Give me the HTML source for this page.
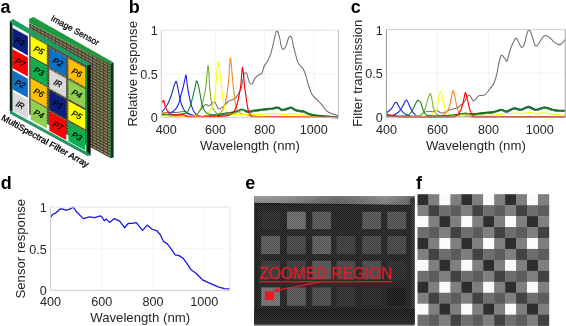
<!DOCTYPE html>
<html><head><meta charset="utf-8"><title>Figure</title>
<style>
html,body{margin:0;padding:0;background:#fff;}
body{width:566px;height:326px;overflow:hidden;}
svg{display:block;font-family:"Liberation Sans",sans-serif;}
</style></head><body>
<svg width="566" height="326" viewBox="0 0 566 326">
<rect width="566" height="326" fill="#fff"/>
<defs>
<pattern id="sens" width="3.7" height="2.9" patternUnits="userSpaceOnUse" patternTransform="matrix(1,0.54,0,1,29.2,23.3)"><rect width="3.7" height="2.9" fill="#8e8c54"/><rect width="3.7" height="1.2" fill="#3a3034"/><rect width="0.9" height="2.9" fill="#4a4038"/></pattern>
</defs>
<polygon points="29.2,23.3 110.4,63.8 110.4,158.0 29.2,114.2" fill="url(#sens)" />
<polygon points="29.2,23.0 29.2,18.8 33.4,17.0 113.6,62.6 110.4,64.0" fill="#1d9a3e" />
<polygon points="110.4,63.9 113.6,62.6 113.6,157.4 110.4,158.2" fill="#0a3516" />
<line x1="110.6" y1="64" x2="110.6" y2="158" stroke="#1a7a34" stroke-width="0.7"/>
<polygon points="12.3,27.7 27.9,36.3 27.9,55.4 12.3,46.8" fill="#0b1f80" />
<text transform="translate(20.1,41.5) rotate(27)" x="0" y="2.8" text-anchor="middle" font-size="8.2" font-style="italic" fill="#000" stroke="#000" stroke-width="0.22">P1</text>
<polygon points="30.7,36.0 46.8,44.9 46.8,64.8 30.7,55.9" fill="#ffff00" />
<text transform="translate(38.8,50.4) rotate(27)" x="0" y="2.8" text-anchor="middle" font-size="8.2" font-style="italic" fill="#000" stroke="#000" stroke-width="0.22">P5</text>
<polygon points="49.3,48.0 66.2,57.3 66.2,76.4 49.3,67.1" fill="#0f6fc8" />
<text transform="translate(57.8,62.2) rotate(27)" x="0" y="2.8" text-anchor="middle" font-size="8.2" font-style="italic" fill="#000" stroke="#000" stroke-width="0.22">P2</text>
<polygon points="68.4,58.5 85.3,67.8 85.3,86.9 68.4,77.6" fill="#ffc000" />
<text transform="translate(76.8,72.7) rotate(27)" x="0" y="2.8" text-anchor="middle" font-size="8.2" font-style="italic" fill="#000" stroke="#000" stroke-width="0.22">P6</text>
<polygon points="12.3,48.9 27.9,57.5 27.9,76.6 12.3,68.0" fill="#ff0000" />
<text transform="translate(20.1,62.7) rotate(27)" x="0" y="2.8" text-anchor="middle" font-size="8.2" font-style="italic" fill="#000" stroke="#000" stroke-width="0.22">P7</text>
<polygon points="30.7,57.2 46.8,66.1 46.8,86.0 30.7,77.1" fill="#0fae4e" />
<text transform="translate(38.8,71.6) rotate(27)" x="0" y="2.8" text-anchor="middle" font-size="8.2" font-style="italic" fill="#000" stroke="#000" stroke-width="0.22">P3</text>
<polygon points="49.3,69.2 66.2,78.5 66.2,97.6 49.3,88.3" fill="#d9d9d9" />
<text transform="translate(57.8,83.4) rotate(27)" x="0" y="2.8" text-anchor="middle" font-size="8.2" font-style="italic" fill="#000" stroke="#000" stroke-width="0.22">IR</text>
<polygon points="68.4,79.7 85.3,89.0 85.3,108.1 68.4,98.8" fill="#8fd14f" />
<text transform="translate(76.8,93.9) rotate(27)" x="0" y="2.8" text-anchor="middle" font-size="8.2" font-style="italic" fill="#000" stroke="#000" stroke-width="0.22">P4</text>
<polygon points="12.3,70.1 27.9,78.7 27.9,97.8 12.3,89.2" fill="#0f6fc8" />
<text transform="translate(20.1,83.9) rotate(27)" x="0" y="2.8" text-anchor="middle" font-size="8.2" font-style="italic" fill="#000" stroke="#000" stroke-width="0.22">P2</text>
<polygon points="30.7,78.4 46.8,87.3 46.8,107.2 30.7,98.3" fill="#ffc000" />
<text transform="translate(38.8,92.8) rotate(27)" x="0" y="2.8" text-anchor="middle" font-size="8.2" font-style="italic" fill="#000" stroke="#000" stroke-width="0.22">P6</text>
<polygon points="49.3,90.4 66.2,99.7 66.2,118.8 49.3,109.5" fill="#0b1f80" />
<text transform="translate(57.8,104.6) rotate(27)" x="0" y="2.8" text-anchor="middle" font-size="8.2" font-style="italic" fill="#000" stroke="#000" stroke-width="0.22">P1</text>
<polygon points="68.4,100.9 85.3,110.2 85.3,129.3 68.4,120.0" fill="#ffff00" />
<text transform="translate(76.8,115.1) rotate(27)" x="0" y="2.8" text-anchor="middle" font-size="8.2" font-style="italic" fill="#000" stroke="#000" stroke-width="0.22">P5</text>
<polygon points="12.3,91.3 27.9,99.9 27.9,119.0 12.3,110.4" fill="#d9d9d9" />
<text transform="translate(20.1,105.1) rotate(27)" x="0" y="2.8" text-anchor="middle" font-size="8.2" font-style="italic" fill="#000" stroke="#000" stroke-width="0.22">IR</text>
<polygon points="30.7,99.6 46.8,108.5 46.8,128.4 30.7,119.5" fill="#8fd14f" />
<text transform="translate(38.8,114.0) rotate(27)" x="0" y="2.8" text-anchor="middle" font-size="8.2" font-style="italic" fill="#000" stroke="#000" stroke-width="0.22">P4</text>
<polygon points="49.3,111.6 66.2,120.9 66.2,140.0 49.3,130.7" fill="#ff0000" />
<text transform="translate(57.8,125.8) rotate(27)" x="0" y="2.8" text-anchor="middle" font-size="8.2" font-style="italic" fill="#000" stroke="#000" stroke-width="0.22">P7</text>
<polygon points="68.4,122.1 85.3,131.4 85.3,150.5 68.4,141.2" fill="#0fae4e" />
<text transform="translate(76.8,136.3) rotate(27)" x="0" y="2.8" text-anchor="middle" font-size="8.2" font-style="italic" fill="#000" stroke="#000" stroke-width="0.22">P3</text>
<polygon points="9.8,21.0 12.3,22.4 12.3,112.4 9.8,111.0" fill="#06180c" />
<line x1="12.0" y1="24" x2="12.0" y2="112" stroke="#155c34" stroke-width="0.6"/>
<polygon points="9.8,21.0 13.0,18.9 90.6,64.3 87.2,66.4 12.3,24.4" fill="#1b9e64" />
<polygon points="86.1,66.0 90.6,64.3 90.6,155.4 86.1,153.2" fill="#041008" />
<line x1="86.7" y1="66.3" x2="86.7" y2="153.4" stroke="#18a050" stroke-width="1.1"/>
<polygon points="9.8,110.2 88.5,153.0 90.4,155.6 88.0,155.8 9.8,113.0" fill="#1b9e64" />
<line x1="9.75" y1="113.2" x2="88.5" y2="156.0" stroke="#0a4a2c" stroke-width="0.6"/>
<text transform="translate(50.2,20.0) rotate(28.8)" font-size="8.7" fill="#000" stroke="#000" stroke-width="0.25" textLength="53.6" lengthAdjust="spacingAndGlyphs">Image Sensor</text>
<text transform="translate(0.8,119.4) rotate(29.2)" font-size="8.7" fill="#000" stroke="#000" stroke-width="0.3" textLength="98.5" lengthAdjust="spacingAndGlyphs">MultiSpectral Filter Array</text>
<rect x="161.3" y="30.3" width="177.2" height="87.0" fill="#fff" stroke="none"/>
<line x1="215.44444444444446" y1="30.3" x2="215.44444444444446" y2="117.3" stroke="#dcdcdc" stroke-width="0.8" stroke-dasharray="0.9,1.1"/>
<line x1="264.6666666666667" y1="30.3" x2="264.6666666666667" y2="117.3" stroke="#dcdcdc" stroke-width="0.8" stroke-dasharray="0.9,1.1"/>
<line x1="313.8888888888889" y1="30.3" x2="313.8888888888889" y2="117.3" stroke="#dcdcdc" stroke-width="0.8" stroke-dasharray="0.9,1.1"/>
<line x1="161.3" y1="73.8" x2="338.5" y2="73.8" stroke="#dcdcdc" stroke-width="0.8" stroke-dasharray="0.9,1.1"/>
<clipPath id="clb"><rect x="161.3" y="29.3" width="177.7" height="89.0"/></clipPath>
<path d="M161.3,113.6 C161.9,113.4 163.6,112.8 165.0,112.5 C166.4,112.2 167.8,112.1 170.0,112.0 C172.2,111.9 175.6,112.2 178.0,112.0 C180.4,111.8 182.9,110.7 184.5,110.9 C186.1,111.2 186.6,112.9 187.7,113.5 C188.8,114.1 189.8,114.3 191.0,114.5 C192.2,114.7 193.9,115.1 195.1,114.8 C196.3,114.5 197.1,113.8 198.3,112.5 C199.5,111.2 201.3,108.6 202.5,107.2 C203.7,105.8 204.6,104.5 205.7,104.2 C206.8,103.9 208.0,105.6 208.9,105.6 C209.8,105.6 210.3,104.6 211.0,104.0 C211.7,103.4 212.5,102.0 213.2,101.8 C213.9,101.5 214.5,101.5 215.3,102.5 C216.1,103.5 217.2,106.7 218.0,107.7 C218.8,108.7 219.1,108.7 220.1,108.3 C221.1,107.9 222.5,106.8 223.8,105.6 C225.1,104.4 226.8,102.4 228.0,101.4 C229.2,100.4 230.1,100.2 231.2,99.8 C232.3,99.3 233.3,99.5 234.4,98.7 C235.5,97.9 236.6,96.6 237.6,95.0 C238.6,93.4 239.9,91.4 240.7,89.2 C241.5,87.0 241.9,84.7 242.5,82.0 C243.1,79.3 243.7,74.8 244.2,73.2 C244.7,71.7 245.1,72.7 245.6,72.7 C246.1,72.8 246.4,72.4 246.9,73.5 C247.4,74.6 248.0,77.6 248.5,79.3 C249.0,81.0 249.5,82.7 250.1,83.4 C250.7,84.1 251.4,84.2 252.2,83.4 C253.0,82.6 253.8,79.7 254.8,78.3 C255.8,76.9 256.9,76.0 258.0,75.1 C259.1,74.2 260.6,74.6 261.7,73.0 C262.8,71.4 263.3,67.7 264.4,65.5 C265.5,63.3 267.1,61.8 268.1,59.8 C269.2,57.8 269.9,56.0 270.7,53.6 C271.5,51.2 272.2,48.1 272.9,45.1 C273.6,42.1 274.4,37.9 275.0,35.5 C275.6,33.1 276.1,30.5 276.8,30.5 C277.5,30.5 278.5,33.2 279.2,35.5 C279.9,37.8 280.4,42.0 280.8,44.0 C281.2,46.0 281.4,46.9 281.9,47.7 C282.4,48.5 283.2,49.4 284.0,48.8 C284.8,48.2 285.8,46.0 286.6,44.0 C287.4,42.0 288.0,38.3 288.8,37.1 C289.6,35.9 290.7,35.5 291.4,36.6 C292.1,37.8 292.4,41.4 293.0,44.0 C293.6,46.6 294.4,49.7 295.1,52.5 C295.9,55.3 296.7,58.9 297.5,61.0 C298.3,63.1 299.0,63.8 299.9,65.0 C300.8,66.2 302.0,66.5 303.0,68.2 C304.0,69.9 304.9,72.7 305.7,75.1 C306.5,77.5 307.1,80.0 307.8,82.5 C308.6,85.0 309.4,87.8 310.2,89.9 C311.0,92.0 311.3,93.3 312.6,95.0 C313.9,96.7 316.3,98.8 317.8,100.3 C319.3,101.8 320.2,102.4 321.6,104.0 C323.0,105.6 324.6,108.5 326.1,110.0 C327.6,111.5 328.6,112.1 330.6,113.0 C332.6,113.9 336.9,114.9 338.1,115.3" fill="none" stroke="#6e6e6e" stroke-width="1.05" stroke-linejoin="round" stroke-linecap="butt" clip-path="url(#clb)" transform="translate(0,0.35)"/>
<path d="M161.3,112.5 C162.0,111.6 164.2,109.0 165.4,107.2 C166.6,105.4 167.5,104.2 168.6,101.9 C169.7,99.6 170.9,96.1 171.8,93.4 C172.7,90.8 173.3,87.9 173.9,86.0 C174.5,84.1 174.9,83.0 175.3,82.2 C175.7,81.4 175.9,80.6 176.2,80.9 C176.5,81.2 176.6,81.7 177.1,84.0 C177.6,86.3 178.6,91.5 179.2,94.5 C179.8,97.5 180.1,99.6 180.8,101.9 C181.5,104.2 182.6,106.7 183.4,108.3 C184.2,109.9 184.5,110.5 185.6,111.4 C186.7,112.3 188.4,113.2 189.8,113.8 C191.2,114.4 192.3,114.8 194.0,115.2 C195.7,115.6 196.5,116.0 200.0,116.0 C203.5,116.0 210.8,115.8 215.0,115.5 C219.2,115.2 221.7,114.7 225.0,114.0 C228.3,113.3 232.2,112.3 235.0,111.5 C237.8,110.7 240.1,109.6 241.8,109.4 C243.5,109.2 243.9,110.1 245.0,110.5 C246.1,110.9 247.0,111.9 248.2,112.0 C249.4,112.1 250.6,111.3 252.4,111.0 C254.2,110.7 256.7,110.4 258.8,110.1 C260.9,109.8 263.3,109.6 265.1,109.4 C266.9,109.2 268.2,109.0 269.4,108.9 C270.5,108.8 270.8,109.0 272.0,108.8 C273.2,108.6 275.4,107.8 276.5,107.6 C277.6,107.4 277.9,107.5 278.8,107.9 C279.7,108.3 280.6,109.7 281.8,109.9 C283.1,110.1 284.8,109.5 286.3,109.1 C287.8,108.7 289.6,107.6 290.8,107.6 C292.1,107.6 292.7,108.6 293.8,109.1 C294.9,109.6 295.8,110.1 297.5,110.6 C299.2,111.0 302.3,111.2 304.3,111.8 C306.3,112.4 307.7,113.8 309.6,114.4 C311.5,115.0 313.4,115.3 315.6,115.6 C317.9,115.9 319.4,116.0 323.1,116.3 C326.9,116.6 335.6,117.2 338.1,117.4" fill="none" stroke="#1c2fc0" stroke-width="1.1" stroke-linejoin="round" stroke-linecap="butt" clip-path="url(#clb)" transform="translate(0,0.35)"/>
<path d="M161.3,115.0 C162.4,114.8 166.2,114.5 168.0,114.0 C169.8,113.5 170.5,113.0 171.8,112.0 C173.1,111.0 174.8,109.8 176.0,108.3 C177.2,106.8 178.0,104.6 178.7,103.0 C179.3,101.4 179.4,100.7 179.9,98.7 C180.4,96.8 181.3,93.4 181.9,91.3 C182.5,89.2 182.9,88.3 183.4,86.0 C183.9,83.7 184.8,79.3 185.2,77.5 C185.6,75.7 185.8,74.0 186.1,75.1 C186.4,76.2 186.7,80.4 187.2,84.0 C187.7,87.6 188.6,93.1 189.3,96.6 C190.0,100.1 190.6,102.6 191.4,105.1 C192.2,107.6 193.0,109.8 194.0,111.4 C195.0,113.0 195.7,113.8 197.2,114.6 C198.7,115.4 200.0,115.8 203.0,116.0 C206.0,116.2 211.3,115.8 215.0,115.5 C218.7,115.2 221.7,114.6 225.0,114.0 C228.3,113.4 232.2,112.5 235.0,111.8 C237.8,111.1 240.1,109.8 241.8,109.6 C243.5,109.4 243.9,110.4 245.0,110.8 C246.1,111.3 247.0,112.2 248.2,112.3 C249.4,112.4 250.6,111.6 252.4,111.3 C254.2,111.0 256.7,110.7 258.8,110.4 C260.9,110.1 263.3,109.9 265.1,109.7 C266.9,109.5 268.2,109.3 269.4,109.2 C270.5,109.1 270.8,109.3 272.0,109.1 C273.2,108.9 275.4,108.1 276.5,107.9 C277.6,107.8 277.9,107.8 278.8,108.2 C279.7,108.6 280.6,110.0 281.8,110.2 C283.1,110.4 284.8,109.8 286.3,109.4 C287.8,109.0 289.6,107.9 290.8,107.9 C292.1,107.9 292.7,108.9 293.8,109.4 C294.9,109.9 295.8,110.5 297.5,110.9 C299.2,111.4 302.3,111.5 304.3,112.1 C306.3,112.7 307.7,114.1 309.6,114.7 C311.5,115.3 313.4,115.6 315.6,115.9 C317.9,116.2 319.4,116.3 323.1,116.6 C326.9,116.9 335.6,117.5 338.1,117.7" fill="none" stroke="#1a1aff" stroke-width="1.1" stroke-linejoin="round" stroke-linecap="butt" clip-path="url(#clb)" transform="translate(0,0.35)"/>
<path d="M161.3,115.0 C164.4,115.1 174.7,115.4 180.0,115.5 C185.3,115.6 190.1,115.7 193.0,115.5 C195.9,115.3 196.0,115.2 197.2,114.1 C198.4,113.0 199.5,110.6 200.4,108.8 C201.3,107.0 201.8,105.6 202.5,103.0 C203.2,100.4 204.0,96.2 204.6,93.4 C205.2,90.6 205.5,89.6 205.9,86.0 C206.3,82.4 206.8,75.5 207.2,72.0 C207.6,68.5 207.8,64.5 208.1,65.0 C208.4,65.5 208.8,71.5 209.0,75.0 C209.2,78.5 209.3,82.0 209.6,86.0 C209.9,90.0 210.4,95.0 211.0,98.7 C211.6,102.4 212.3,106.1 213.1,108.3 C213.9,110.5 214.8,111.0 215.8,112.0 C216.8,113.0 217.5,113.6 219.0,114.0 C220.5,114.4 222.3,114.8 225.0,114.5 C227.7,114.2 232.2,113.2 235.0,112.5 C237.8,111.8 240.1,110.3 241.8,110.0 C243.5,109.7 243.9,110.3 245.0,110.7 C246.1,111.1 247.0,112.1 248.2,112.2 C249.4,112.3 250.6,111.5 252.4,111.2 C254.2,110.9 256.7,110.6 258.8,110.3 C260.9,110.0 263.3,109.8 265.1,109.6 C266.9,109.4 268.2,109.2 269.4,109.1 C270.5,109.0 270.8,109.2 272.0,109.0 C273.2,108.8 275.4,108.0 276.5,107.8 C277.6,107.6 277.9,107.7 278.8,108.1 C279.7,108.5 280.6,109.9 281.8,110.1 C283.1,110.3 284.8,109.7 286.3,109.3 C287.8,108.9 289.6,107.8 290.8,107.8 C292.1,107.8 292.7,108.8 293.8,109.3 C294.9,109.8 295.8,110.3 297.5,110.8 C299.2,111.2 302.3,111.4 304.3,112.0 C306.3,112.6 307.7,114.0 309.6,114.6 C311.5,115.2 313.4,115.5 315.6,115.8 C317.9,116.1 319.4,116.2 323.1,116.5 C326.9,116.8 335.6,117.4 338.1,117.6" fill="none" stroke="#78b22e" stroke-width="1.1" stroke-linejoin="round" stroke-linecap="butt" clip-path="url(#clb)" transform="translate(0,0.35)"/>
<path d="M161.3,113.5 C161.8,113.3 163.1,112.3 164.0,112.5 C164.9,112.7 165.2,114.0 167.0,114.5 C168.8,115.0 169.5,115.5 175.0,115.8 C180.5,116.1 193.8,116.5 200.0,116.5 C206.2,116.5 209.3,116.2 212.0,116.0 C214.7,115.8 215.0,115.8 216.4,115.2 C217.8,114.6 219.4,113.8 220.6,112.5 C221.8,111.2 222.9,109.3 223.8,107.2 C224.7,105.1 225.3,102.6 225.9,99.8 C226.5,97.0 227.1,93.5 227.5,90.2 C227.9,86.9 228.2,84.4 228.6,80.0 C229.0,75.6 229.4,67.8 229.7,64.0 C230.0,60.2 230.2,56.8 230.5,57.5 C230.8,58.2 231.1,63.2 231.6,68.0 C232.1,72.8 232.8,81.2 233.3,86.0 C233.8,90.8 234.2,93.2 234.6,96.6 C235.0,99.9 235.4,103.7 236.0,106.1 C236.6,108.5 237.1,109.7 238.1,110.9 C239.1,112.2 240.5,113.0 241.8,113.6 C243.1,114.2 244.2,114.1 246.0,114.4 C247.8,114.7 249.2,115.2 252.4,115.5 C255.6,115.8 257.1,115.8 265.0,116.0 C272.9,116.2 287.8,116.2 300.0,116.4 C312.2,116.6 331.8,116.9 338.1,117.0" fill="none" stroke="#f08a24" stroke-width="1.1" stroke-linejoin="round" stroke-linecap="butt" clip-path="url(#clb)" transform="translate(0,0.35)"/>
<path d="M161.3,114.5 C162.1,114.6 163.7,115.0 166.0,115.2 C168.3,115.4 171.0,115.5 175.0,115.6 C179.0,115.7 185.8,116.0 190.0,116.0 C194.2,116.0 197.0,116.3 200.0,115.8 C203.0,115.3 206.0,114.2 207.8,113.0 C209.6,111.8 210.1,110.3 211.0,108.8 C211.9,107.3 212.6,106.2 213.2,104.0 C213.8,101.8 214.4,98.5 214.8,95.5 C215.2,92.5 215.4,90.2 215.8,86.0 C216.2,81.8 216.6,74.0 217.0,70.0 C217.4,66.0 217.6,62.1 218.0,61.8 C218.4,61.5 218.7,64.0 219.3,68.0 C219.9,72.0 220.8,81.2 221.4,86.0 C222.0,90.8 222.2,93.2 222.7,96.6 C223.2,99.9 223.7,103.6 224.3,106.1 C224.9,108.6 225.4,110.1 226.4,111.4 C227.4,112.7 227.5,113.3 230.1,113.8 C232.7,114.2 238.1,114.1 241.8,114.1 C245.5,114.1 249.4,113.8 252.4,113.8 C255.4,113.8 257.2,114.2 260.0,114.1 C262.8,114.0 266.0,113.5 269.0,113.3 C272.0,113.1 275.8,112.9 278.0,113.0 C280.2,113.1 280.5,114.0 282.5,114.1 C284.5,114.1 287.2,113.3 290.0,113.3 C292.8,113.3 296.2,113.8 299.0,114.1 C301.8,114.4 303.1,114.8 306.6,115.3 C310.1,115.8 314.8,116.5 320.0,116.8 C325.2,117.1 335.1,117.0 338.1,117.0" fill="none" stroke="#ffff00" stroke-width="1.1" stroke-linejoin="round" stroke-linecap="butt" clip-path="url(#clb)" transform="translate(0,0.35)"/>
<path d="M161.3,114.0 C162.8,114.1 166.9,114.5 170.0,114.5 C173.1,114.5 177.2,114.3 180.0,114.0 C182.8,113.7 185.2,113.3 186.6,112.5 C188.0,111.7 188.0,110.7 188.7,109.3 C189.4,107.9 190.2,106.3 190.9,104.0 C191.6,101.7 192.3,98.3 193.0,95.5 C193.7,92.7 194.5,89.5 195.1,87.0 C195.7,84.5 196.0,81.3 196.4,80.6 C196.8,79.8 197.2,81.4 197.6,82.5 C198.0,83.6 198.3,84.8 198.8,87.0 C199.3,89.2 199.9,92.7 200.4,95.5 C200.9,98.3 201.3,101.5 202.0,104.0 C202.7,106.5 203.6,108.9 204.6,110.4 C205.6,112.0 206.4,112.6 207.8,113.3 C209.2,114.0 211.1,114.4 213.1,114.4 C215.1,114.5 217.0,114.0 220.0,113.6 C223.0,113.2 228.3,112.5 231.2,112.0 C234.1,111.5 235.8,110.9 237.6,110.4 C239.4,109.9 240.6,108.9 241.8,108.8 C243.0,108.7 243.9,109.5 245.0,109.9 C246.1,110.3 247.0,111.3 248.2,111.4 C249.4,111.5 250.6,110.7 252.4,110.4 C254.2,110.1 256.7,109.8 258.8,109.5 C260.9,109.2 263.3,109.0 265.1,108.8 C266.9,108.6 268.2,108.4 269.4,108.3 C270.5,108.2 270.8,108.4 272.0,108.2 C273.2,108.0 275.4,107.2 276.5,107.0 C277.6,106.8 277.9,106.9 278.8,107.3 C279.7,107.7 280.6,109.1 281.8,109.3 C283.1,109.5 284.8,108.9 286.3,108.5 C287.8,108.1 289.6,107.0 290.8,107.0 C292.1,107.0 292.7,108.0 293.8,108.5 C294.9,109.0 295.8,109.5 297.5,110.0 C299.2,110.5 302.3,110.6 304.3,111.2 C306.3,111.8 307.7,113.2 309.6,113.8 C311.5,114.4 313.4,114.7 315.6,115.0 C317.9,115.3 319.4,115.4 323.1,115.7 C326.9,116.0 335.6,116.6 338.1,116.8" fill="none" stroke="#17842e" stroke-width="1.1" stroke-linejoin="round" stroke-linecap="butt" clip-path="url(#clb)" transform="translate(0,0.35)"/>
<path d="M245.0,109.9 C245.5,110.2 247.0,111.3 248.2,111.4 C249.4,111.5 250.6,110.7 252.4,110.4 C254.2,110.1 256.7,109.8 258.8,109.5 C260.9,109.2 263.3,109.0 265.1,108.8 C266.9,108.6 268.2,108.4 269.4,108.3 C270.5,108.2 270.8,108.4 272.0,108.2 C273.2,108.0 275.4,107.2 276.5,107.0 C277.6,106.8 277.9,106.9 278.8,107.3 C279.7,107.7 280.6,109.1 281.8,109.3 C283.1,109.5 284.8,108.9 286.3,108.5 C287.8,108.1 289.6,107.0 290.8,107.0 C292.1,107.0 292.7,108.0 293.8,108.5 C294.9,109.0 295.8,109.5 297.5,110.0 C299.2,110.5 302.3,110.6 304.3,111.2 C306.3,111.8 307.7,113.2 309.6,113.8 C311.5,114.4 313.4,114.7 315.6,115.0 C317.9,115.3 319.4,115.4 323.1,115.7 C326.9,116.0 335.6,116.6 338.1,116.8" fill="none" stroke="#146f2a" stroke-width="1.7" stroke-linejoin="round" stroke-linecap="butt" clip-path="url(#clb)" transform="translate(0,0.35)"/>
<path d="M161.3,102.4 C161.5,102.2 162.1,101.8 162.5,101.5 C162.9,101.2 163.3,99.4 163.8,100.3 C164.3,101.2 164.6,104.8 165.4,106.7 C166.2,108.7 167.5,110.8 168.6,112.0 C169.7,113.2 170.6,113.7 171.8,114.1 C173.0,114.5 174.1,114.5 176.0,114.6 C177.9,114.6 181.5,114.1 183.4,114.4 C185.3,114.7 184.9,115.8 187.7,116.2 C190.5,116.6 195.4,116.7 200.4,116.7 C205.4,116.7 214.0,116.3 217.4,116.2 C220.8,116.1 218.7,116.4 220.6,116.2 C222.5,116.0 227.0,115.5 229.1,114.8 C231.2,114.1 232.2,113.3 233.3,112.0 C234.5,110.7 235.2,109.2 236.0,107.2 C236.8,105.2 237.5,102.5 238.1,99.8 C238.7,97.1 239.3,93.6 239.7,91.3 C240.1,89.0 240.4,88.9 240.7,86.0 C241.0,83.1 241.4,77.2 241.7,74.0 C242.0,70.8 242.2,66.8 242.5,66.8 C242.8,66.8 243.2,70.8 243.5,74.0 C243.8,77.2 244.2,82.9 244.5,86.0 C244.8,89.1 245.1,89.4 245.5,92.4 C245.9,95.4 246.6,100.8 247.1,104.0 C247.6,107.2 248.1,109.5 248.7,111.4 C249.3,113.3 249.8,114.3 250.8,115.2 C251.8,116.1 249.6,116.4 254.5,116.7 C259.4,117.0 266.1,116.8 280.0,116.8 C293.9,116.8 328.4,116.9 338.1,116.9" fill="none" stroke="#ff0000" stroke-width="1.15" stroke-linejoin="round" stroke-linecap="butt" clip-path="url(#clb)" transform="translate(0,0.35)"/>
<path d="M161.3,30.3 H338.5" fill="none" stroke="#cfcfcf" stroke-width="1" stroke-dasharray="1.7,0.8"/>
<path d="M338.5,30.3 V117.3" fill="none" stroke="#c2c2c2" stroke-width="1"/>
<path d="M161.3,30.3 V117.3 H338.5" fill="none" stroke="#cccccc" stroke-width="1"/>
<text x="166.22222222222223" y="133.6" font-size="12.6" text-anchor="middle" fill="#262626">400</text>
<text x="215.44444444444446" y="133.6" font-size="12.6" text-anchor="middle" fill="#262626">600</text>
<text x="264.6666666666667" y="133.6" font-size="12.6" text-anchor="middle" fill="#262626">800</text>
<text x="313.8888888888889" y="133.6" font-size="12.6" text-anchor="middle" fill="#262626">1000</text>
<text x="157.70000000000002" y="122.2" font-size="12.6" text-anchor="end" fill="#262626">0</text>
<text x="157.70000000000002" y="78.7" font-size="12.6" text-anchor="end" fill="#262626">0.5</text>
<text x="157.70000000000002" y="35.199999999999996" font-size="12.6" text-anchor="end" fill="#262626">1</text>
<text x="249.9" y="150.2" font-size="13.2" text-anchor="middle" fill="#262626">Wavelength (nm)</text>
<text transform="translate(137.3,73.8) rotate(-90)" font-size="13.2" text-anchor="middle" fill="#262626">Relative response</text>
<rect x="386.4" y="29.6" width="178.89999999999998" height="87.30000000000001" fill="#fff" stroke="none"/>
<line x1="437.5142857142857" y1="29.6" x2="437.5142857142857" y2="116.9" stroke="#dcdcdc" stroke-width="0.8" stroke-dasharray="0.9,1.1"/>
<line x1="488.6285714285714" y1="29.6" x2="488.6285714285714" y2="116.9" stroke="#dcdcdc" stroke-width="0.8" stroke-dasharray="0.9,1.1"/>
<line x1="539.7428571428571" y1="29.6" x2="539.7428571428571" y2="116.9" stroke="#dcdcdc" stroke-width="0.8" stroke-dasharray="0.9,1.1"/>
<line x1="386.4" y1="73.25" x2="565.3" y2="73.25" stroke="#dcdcdc" stroke-width="0.8" stroke-dasharray="0.9,1.1"/>
<clipPath id="clc"><rect x="386.4" y="28.6" width="179.39999999999998" height="89.30000000000001"/></clipPath>
<path d="M386.4,114.5 C388.7,114.7 395.2,115.5 400.0,115.8 C404.8,116.0 411.7,116.1 415.0,116.0 C418.3,115.9 418.4,115.9 420.0,115.2 C421.6,114.5 422.9,112.7 424.3,112.0 C425.7,111.3 427.1,111.0 428.5,110.9 C429.9,110.8 431.6,111.5 432.8,111.4 C434.0,111.3 435.0,110.5 435.9,110.4 C436.8,110.3 437.2,110.3 438.0,110.6 C438.8,110.9 439.5,112.0 440.4,112.3 C441.3,112.6 442.3,112.6 443.5,112.3 C444.7,112.0 446.4,111.0 447.8,110.4 C449.2,109.8 450.5,109.2 452.0,108.8 C453.5,108.3 455.4,108.3 456.8,107.7 C458.2,107.1 459.2,106.2 460.5,105.1 C461.8,103.9 463.6,102.2 464.7,100.8 C465.8,99.4 466.3,97.6 466.9,96.6 C467.5,95.6 467.9,95.1 468.5,95.0 C469.1,94.9 469.8,95.2 470.6,96.1 C471.4,97.0 472.4,99.8 473.2,100.3 C474.0,100.8 474.4,100.1 475.3,99.3 C476.2,98.5 477.4,96.2 478.5,95.5 C479.6,94.8 480.6,95.2 481.7,95.0 C482.8,94.8 483.8,95.2 484.9,94.5 C486.0,93.8 487.0,92.2 488.1,90.8 C489.2,89.4 490.9,87.2 491.8,86.0 C492.7,84.8 492.9,85.4 493.7,83.4 C494.5,81.4 495.8,77.8 496.7,74.2 C497.6,70.7 498.2,65.3 499.0,62.1 C499.8,58.9 500.6,55.8 501.3,54.9 C502.1,54.0 502.9,55.9 503.5,56.5 C504.1,57.1 504.5,57.8 505.1,58.5 C505.7,59.2 506.1,62.1 507.0,60.5 C507.9,58.9 509.2,52.1 510.4,48.8 C511.6,45.4 513.2,42.2 514.2,40.4 C515.2,38.6 515.6,37.4 516.5,37.9 C517.4,38.4 518.6,42.0 519.5,43.5 C520.4,45.0 521.0,47.0 521.8,47.0 C522.6,47.0 523.5,45.9 524.4,43.5 C525.3,41.1 526.3,35.1 527.1,32.8 C527.9,30.5 528.5,29.0 529.4,29.6 C530.3,30.2 531.5,34.2 532.4,36.6 C533.3,39.0 533.9,42.7 534.7,44.2 C535.5,45.7 536.1,46.0 537.0,45.5 C537.9,45.0 538.7,42.9 540.0,41.2 C541.3,39.5 543.0,35.7 544.6,35.1 C546.2,34.5 548.2,36.2 549.9,37.4 C551.5,38.5 552.9,40.9 554.5,42.0 C556.1,43.1 558.4,44.2 559.8,44.2 C561.2,44.2 561.9,42.9 562.8,42.0 C563.7,41.1 564.9,39.4 565.3,38.9" fill="none" stroke="#6e6e6e" stroke-width="1.05" stroke-linejoin="round" stroke-linecap="butt" clip-path="url(#clc)" transform="translate(0,0.4)"/>
<path d="M386.4,112.5 C387.2,111.8 390.0,109.9 391.4,108.3 C392.8,106.7 393.7,104.0 394.6,103.0 C395.5,102.0 396.0,101.6 396.7,102.1 C397.4,102.6 397.9,104.6 398.8,106.1 C399.7,107.6 400.8,109.6 402.0,110.9 C403.2,112.2 404.7,113.3 406.3,114.1 C407.9,114.9 408.5,115.4 411.6,115.8 C414.7,116.2 418.6,116.2 425.0,116.2 C431.4,116.2 444.2,115.8 450.0,115.5 C455.8,115.2 457.4,114.6 460.0,114.2 C462.6,113.8 464.1,113.3 465.8,113.3 C467.5,113.3 468.2,113.9 470.0,114.0 C471.8,114.1 474.3,114.2 476.4,114.0 C478.5,113.8 480.7,113.3 482.8,113.1 C484.9,112.9 487.2,112.8 489.1,112.6 C491.1,112.4 492.4,112.3 494.5,111.8 C496.6,111.3 499.5,109.7 501.5,109.7 C503.5,109.6 504.4,111.7 506.5,111.5 C508.6,111.3 511.9,108.6 514.3,108.3 C516.6,108.0 518.2,109.9 520.6,109.7 C523.0,109.5 525.9,106.9 528.4,106.9 C530.9,106.9 532.8,109.6 535.5,109.7 C538.2,109.8 541.9,107.6 544.7,107.6 C547.5,107.6 549.9,109.2 552.4,109.7 C554.9,110.2 557.4,110.5 559.5,110.7 C561.6,110.9 564.2,110.7 565.2,110.7" fill="none" stroke="#1c2fc0" stroke-width="1.1" stroke-linejoin="round" stroke-linecap="butt" clip-path="url(#clc)" transform="translate(0,0.4)"/>
<path d="M386.4,115.5 C387.6,115.3 391.4,115.3 393.5,114.6 C395.6,113.9 397.3,112.8 398.8,111.4 C400.3,110.0 401.5,107.9 402.6,106.1 C403.7,104.3 404.5,101.8 405.2,100.8 C405.9,99.8 406.2,99.3 406.8,99.8 C407.4,100.3 408.1,102.3 408.9,104.0 C409.7,105.7 410.6,108.2 411.6,109.9 C412.6,111.6 413.6,113.1 414.7,114.1 C415.8,115.1 415.3,115.6 417.9,115.9 C420.4,116.2 424.6,116.3 430.0,116.2 C435.4,116.1 445.0,115.8 450.0,115.5 C455.0,115.2 457.4,114.6 460.0,114.3 C462.6,114.0 464.1,113.5 465.8,113.5 C467.5,113.5 468.2,114.2 470.0,114.3 C471.8,114.4 474.3,114.5 476.4,114.3 C478.5,114.2 480.7,113.6 482.8,113.4 C484.9,113.2 487.2,113.1 489.1,112.9 C491.1,112.7 492.4,112.6 494.5,112.1 C496.6,111.6 499.5,110.0 501.5,110.0 C503.5,110.0 504.4,112.0 506.5,111.8 C508.6,111.6 511.9,108.9 514.3,108.6 C516.6,108.3 518.2,110.2 520.6,110.0 C523.0,109.8 525.9,107.2 528.4,107.2 C530.9,107.2 532.8,109.9 535.5,110.0 C538.2,110.1 541.9,107.9 544.7,107.9 C547.5,107.9 549.9,109.5 552.4,110.0 C554.9,110.5 557.4,110.8 559.5,111.0 C561.6,111.2 564.2,111.0 565.2,111.0" fill="none" stroke="#1a1aff" stroke-width="1.1" stroke-linejoin="round" stroke-linecap="butt" clip-path="url(#clc)" transform="translate(0,0.4)"/>
<path d="M386.4,115.8 C390.3,115.8 404.4,116.1 410.0,116.0 C415.6,115.9 417.6,116.1 420.0,115.2 C422.4,114.3 423.2,112.6 424.3,110.4 C425.4,108.2 426.1,104.4 426.9,101.9 C427.7,99.4 428.5,97.0 429.1,95.5 C429.7,94.0 429.9,92.8 430.3,93.2 C430.7,93.6 431.2,95.4 431.7,97.7 C432.2,100.0 432.7,104.7 433.3,107.2 C433.9,109.7 434.6,111.3 435.4,112.5 C436.2,113.7 436.5,114.1 438.1,114.6 C439.7,115.1 441.7,115.6 445.0,115.5 C448.3,115.4 454.5,114.6 458.0,114.2 C461.5,113.8 463.8,113.2 465.8,113.2 C467.8,113.2 468.2,114.0 470.0,114.2 C471.8,114.4 474.3,114.4 476.4,114.2 C478.5,114.0 480.7,113.5 482.8,113.3 C484.9,113.1 487.2,113.0 489.1,112.8 C491.1,112.6 492.4,112.5 494.5,112.0 C496.6,111.5 499.5,109.9 501.5,109.9 C503.5,109.8 504.4,111.9 506.5,111.7 C508.6,111.5 511.9,108.8 514.3,108.5 C516.6,108.2 518.2,110.1 520.6,109.9 C523.0,109.7 525.9,107.1 528.4,107.1 C530.9,107.1 532.8,109.8 535.5,109.9 C538.2,110.0 541.9,107.8 544.7,107.8 C547.5,107.8 549.9,109.4 552.4,109.9 C554.9,110.4 557.4,110.7 559.5,110.9 C561.6,111.1 564.2,110.9 565.2,110.9" fill="none" stroke="#78b22e" stroke-width="1.1" stroke-linejoin="round" stroke-linecap="butt" clip-path="url(#clc)" transform="translate(0,0.4)"/>
<path d="M386.4,116.2 C394.5,116.2 425.6,116.4 435.0,116.2 C444.4,116.0 440.6,115.9 442.5,115.2 C444.4,114.5 445.6,113.5 446.7,112.0 C447.8,110.5 448.6,108.7 449.4,106.1 C450.2,103.5 450.9,99.3 451.5,96.6 C452.1,93.9 452.6,90.2 453.1,90.0 C453.6,89.8 454.1,92.8 454.7,95.5 C455.3,98.2 456.1,103.3 456.8,106.1 C457.5,108.8 457.9,110.7 458.9,112.0 C459.9,113.3 461.1,113.6 462.6,114.1 C464.1,114.6 465.1,114.9 468.0,115.2 C470.9,115.5 463.8,115.8 480.0,116.0 C496.2,116.2 551.0,116.2 565.2,116.2" fill="none" stroke="#f08a24" stroke-width="1.1" stroke-linejoin="round" stroke-linecap="butt" clip-path="url(#clc)" transform="translate(0,0.4)"/>
<path d="M386.4,116.0 C392.0,116.0 413.0,116.1 420.0,116.0 C427.0,115.9 426.2,115.7 428.5,115.2 C430.8,114.7 432.5,113.9 433.8,113.0 C435.1,112.1 435.7,111.8 436.4,110.0 C437.1,108.2 437.7,104.7 438.2,101.9 C438.7,99.1 439.2,94.8 439.6,93.0 C440.0,91.2 440.1,90.5 440.5,90.8 C440.9,91.0 441.3,92.7 441.8,94.5 C442.3,96.3 442.9,100.0 443.4,101.9 C443.9,103.8 444.1,104.5 444.6,106.1 C445.2,107.7 445.8,110.0 446.7,111.4 C447.6,112.8 447.6,113.9 449.9,114.4 C452.2,114.9 456.3,114.6 460.5,114.6 C464.7,114.6 470.8,114.4 475.0,114.5 C479.2,114.6 481.8,115.3 486.0,115.2 C490.2,115.1 495.4,114.4 500.1,114.0 C504.8,113.6 510.8,112.7 514.3,112.6 C517.8,112.5 518.4,113.3 521.0,113.2 C523.6,113.1 527.1,111.9 529.8,111.9 C532.5,111.9 534.5,113.1 537.0,113.2 C539.5,113.3 542.1,112.2 544.7,112.3 C547.3,112.4 549.0,113.6 552.4,114.0 C555.8,114.4 563.1,114.6 565.2,114.7" fill="none" stroke="#ffff00" stroke-width="1.1" stroke-linejoin="round" stroke-linecap="butt" clip-path="url(#clc)" transform="translate(0,0.4)"/>
<path d="M386.4,115.8 C388.7,115.8 396.5,116.1 400.0,116.0 C403.5,115.9 405.4,116.0 407.3,115.2 C409.2,114.4 410.4,113.1 411.6,111.4 C412.8,109.7 413.8,106.9 414.7,105.1 C415.6,103.3 416.3,101.6 416.9,100.8 C417.5,100.0 417.9,99.8 418.5,100.0 C419.1,100.2 419.9,100.5 420.6,101.9 C421.3,103.3 421.9,106.3 422.7,108.3 C423.5,110.2 424.3,112.4 425.3,113.6 C426.3,114.8 426.1,114.9 428.5,115.2 C430.9,115.5 436.4,115.6 440.0,115.5 C443.6,115.4 446.8,115.1 449.9,114.8 C453.0,114.5 455.8,114.1 458.4,113.8 C461.0,113.5 463.9,112.8 465.8,112.7 C467.7,112.6 468.2,113.3 470.0,113.4 C471.8,113.5 474.3,113.6 476.4,113.4 C478.5,113.2 480.7,112.7 482.8,112.5 C484.9,112.3 487.2,112.2 489.1,112.0 C491.1,111.8 492.4,111.7 494.5,111.2 C496.6,110.7 499.5,109.1 501.5,109.1 C503.5,109.0 504.4,111.1 506.5,110.9 C508.6,110.7 511.9,108.0 514.3,107.7 C516.6,107.4 518.2,109.3 520.6,109.1 C523.0,108.9 525.9,106.3 528.4,106.3 C530.9,106.3 532.8,109.0 535.5,109.1 C538.2,109.2 541.9,107.0 544.7,107.0 C547.5,107.0 549.9,108.6 552.4,109.1 C554.9,109.6 557.4,109.9 559.5,110.1 C561.6,110.3 564.2,110.1 565.2,110.1" fill="none" stroke="#17842e" stroke-width="1.1" stroke-linejoin="round" stroke-linecap="butt" clip-path="url(#clc)" transform="translate(0,0.4)"/>
<path d="M470.0,113.4 C471.1,113.4 474.3,113.6 476.4,113.4 C478.5,113.2 480.7,112.7 482.8,112.5 C484.9,112.3 487.2,112.2 489.1,112.0 C491.1,111.8 492.4,111.7 494.5,111.2 C496.6,110.7 499.5,109.1 501.5,109.1 C503.5,109.0 504.4,111.1 506.5,110.9 C508.6,110.7 511.9,108.0 514.3,107.7 C516.6,107.4 518.2,109.3 520.6,109.1 C523.0,108.9 525.9,106.3 528.4,106.3 C530.9,106.3 532.8,109.0 535.5,109.1 C538.2,109.2 541.9,107.0 544.7,107.0 C547.5,107.0 549.9,108.6 552.4,109.1 C554.9,109.6 557.4,109.9 559.5,110.1 C561.6,110.3 564.2,110.1 565.2,110.1" fill="none" stroke="#146f2a" stroke-width="1.7" stroke-linejoin="round" stroke-linecap="butt" clip-path="url(#clc)" transform="translate(0,0.4)"/>
<path d="M386.4,113.0 C386.9,113.3 387.9,114.1 389.3,114.6 C390.7,115.0 392.0,115.4 394.6,115.7 C397.2,116.0 396.0,116.3 405.2,116.5 C414.4,116.7 442.0,116.6 450.0,116.6 C458.0,116.6 451.8,116.8 453.0,116.5 C454.2,116.2 456.1,115.6 457.3,114.6 C458.6,113.6 459.5,112.5 460.5,110.4 C461.5,108.3 462.5,104.6 463.2,101.9 C463.9,99.2 464.3,96.1 464.7,94.5 C465.1,92.9 465.2,91.7 465.6,92.4 C466.1,93.1 466.8,96.1 467.4,98.7 C468.0,101.3 468.8,105.8 469.5,108.3 C470.2,110.8 470.7,112.3 471.6,113.6 C472.5,114.9 473.5,115.5 474.8,116.0 C476.1,116.5 464.5,116.4 479.6,116.5 C494.7,116.6 550.9,116.5 565.2,116.5" fill="none" stroke="#ff0000" stroke-width="1.15" stroke-linejoin="round" stroke-linecap="butt" clip-path="url(#clc)" transform="translate(0,0.4)"/>
<path d="M386.4,29.6 H565.3" fill="none" stroke="#cfcfcf" stroke-width="1"/>
<path d="M565.3,29.6 V116.9" fill="none" stroke="#a6a6a6" stroke-width="1"/>
<path d="M386.4,29.6 V116.9 H565.3" fill="none" stroke="#9a9a9a" stroke-width="1"/>
<text x="386.4" y="133.5" font-size="12.6" text-anchor="middle" fill="#262626">400</text>
<text x="437.5142857142857" y="133.5" font-size="12.6" text-anchor="middle" fill="#262626">600</text>
<text x="488.6285714285714" y="133.5" font-size="12.6" text-anchor="middle" fill="#262626">800</text>
<text x="539.7428571428571" y="133.5" font-size="12.6" text-anchor="middle" fill="#262626">1000</text>
<text x="382.79999999999995" y="121.80000000000001" font-size="12.6" text-anchor="end" fill="#262626">0</text>
<text x="382.79999999999995" y="78.15" font-size="12.6" text-anchor="end" fill="#262626">0.5</text>
<text x="382.79999999999995" y="34.49999999999999" font-size="12.6" text-anchor="end" fill="#262626">1</text>
<text x="475.84999999999997" y="150.2" font-size="13.2" text-anchor="middle" fill="#262626">Wavelength (nm)</text>
<text transform="translate(361.7,73.25) rotate(-90)" font-size="13.2" text-anchor="middle" fill="#262626">Filter transmission</text>
<rect x="50.4" y="207.1" width="179.5" height="83.20000000000002" fill="#fff" stroke="none"/>
<line x1="101.68571428571428" y1="207.1" x2="101.68571428571428" y2="290.3" stroke="#e2e2ea" stroke-width="0.8" stroke-dasharray="0.9,1.1"/>
<line x1="152.97142857142856" y1="207.1" x2="152.97142857142856" y2="290.3" stroke="#e2e2ea" stroke-width="0.8" stroke-dasharray="0.9,1.1"/>
<line x1="204.25714285714287" y1="207.1" x2="204.25714285714287" y2="290.3" stroke="#e2e2ea" stroke-width="0.8" stroke-dasharray="0.9,1.1"/>
<line x1="50.4" y1="248.7" x2="229.9" y2="248.7" stroke="#e2e2ea" stroke-width="0.8" stroke-dasharray="0.9,1.1"/>
<clipPath id="cld"><rect x="50.4" y="206.1" width="180.0" height="85.20000000000002"/></clipPath>
<path d="M50.4,217.3 L53.3,213.8 L55.4,213.3 L60.4,208.8 L63.0,209.2 L65.7,210.2 L69.2,209.4 L73.3,207.1 L76.3,211.5 L83.3,218.6 L89.5,216.8 L94.8,217.7 L100.1,215.9 L101.9,216.8 L104.2,220.8 L106.3,219.1 L109.5,222.4 L114.3,218.6 L119.6,221.2 L124.5,227.7 L128.4,223.3 L131.9,223.3 L136.3,222.6 L142.5,230.4 L147.3,225.1 L151.7,229.0 L156.9,230.8 L160.3,234.7 L163.4,241.3 L167.3,243.9 L171.3,249.1 L175.2,254.8 L179.1,255.6 L183.0,258.2 L186.9,263.4 L190.8,269.4 L196.0,273.3 L202.5,279.8 L209.0,282.9 L218.1,286.8 L224.6,288.6 L229.8,288.8" fill="none" stroke="#1616e6" stroke-width="1.3" stroke-linejoin="round" stroke-linecap="butt" clip-path="url(#cld)" transform="translate(0,0)"/>
<path d="M50.4,207.1 H229.9" fill="none" stroke="#e4e4e8" stroke-width="1"/>
<path d="M229.9,207.1 V290.3" fill="none" stroke="#e4e4e8" stroke-width="1"/>
<path d="M50.4,207.1 V290.3 H229.9" fill="none" stroke="#cacaca" stroke-width="1"/>
<text x="50.4" y="306.1" font-size="12.6" text-anchor="middle" fill="#262626">400</text>
<text x="101.68571428571428" y="306.1" font-size="12.6" text-anchor="middle" fill="#262626">600</text>
<text x="152.97142857142856" y="306.1" font-size="12.6" text-anchor="middle" fill="#262626">800</text>
<text x="204.25714285714287" y="306.1" font-size="12.6" text-anchor="middle" fill="#262626">1000</text>
<text x="46.8" y="295.2" font-size="12.6" text-anchor="end" fill="#262626">0</text>
<text x="46.8" y="253.6" font-size="12.6" text-anchor="end" fill="#262626">0.5</text>
<text x="46.8" y="212.0" font-size="12.6" text-anchor="end" fill="#262626">1</text>
<text x="140.15" y="321.8" font-size="13.2" text-anchor="middle" fill="#262626">Wavelength (nm)</text>
<text transform="translate(25.3,248.7) rotate(-90)" font-size="13.2" text-anchor="middle" fill="#262626">Sensor response</text>
<defs><linearGradient id="eg" x1="0" y1="0" x2="1" y2="0"><stop offset="0" stop-color="#9a9a9a"/><stop offset="0.2" stop-color="#909090"/><stop offset="0.52" stop-color="#666666"/><stop offset="0.82" stop-color="#8c8c8c"/><stop offset="0.95" stop-color="#707070"/><stop offset="1" stop-color="#505050"/></linearGradient><pattern id="dith" width="2" height="2" patternUnits="userSpaceOnUse"><rect width="1" height="1" fill="#000" opacity="0.13"/><rect x="1" y="1" width="1" height="1" fill="#000" opacity="0.13"/><rect x="1" width="1" height="1" fill="#fff" opacity="0.07"/><rect y="1" width="1" height="1" fill="#fff" opacity="0.07"/></pattern><linearGradient id="eband" x1="0" y1="0" x2="0" y2="1"><stop offset="0" stop-color="#fff" stop-opacity="0.10"/><stop offset="1" stop-color="#000" stop-opacity="0.06"/></linearGradient><linearGradient id="ebot" x1="0" y1="0" x2="0" y2="1"><stop offset="0" stop-color="#1c1c1c"/><stop offset="0.5" stop-color="#202020"/><stop offset="1" stop-color="#2a2a2a"/></linearGradient></defs>
<rect x="254.2" y="196.0" width="160.3" height="128.8" fill="#1c1c1c"/>
<path d="M254.2,196.0 H414.5 V204.9 L254.2,202.8Z" fill="url(#eg)"/>
<path d="M254.2,196.0 H414.5 V204.9 L254.2,202.8Z" fill="url(#eband)"/>
<rect x="410.2" y="198" width="4.3" height="126" fill="#343434"/>
<rect x="257.5" y="205.5" width="153.5" height="104" fill="#262626"/>
<rect x="254.2" y="309" width="160.3" height="15.800000000000011" fill="url(#ebot)"/>
<rect x="254.2" y="324.7" width="160.3" height="1.3" fill="#9a9a9a"/>
<filter id="eblur" x="-5%" y="-5%" width="110%" height="110%"><feGaussianBlur stdDeviation="0.5"/></filter><g filter="url(#eblur)">
<rect x="261.2" y="211.7" width="18.8" height="17.4" fill="#2d2d2d"/>
<rect x="287.0" y="211.7" width="18.8" height="17.4" fill="#6e6e6e"/>
<rect x="312.3" y="211.7" width="18.8" height="17.4" fill="#5a5a5a"/>
<rect x="336.6" y="211.7" width="18.8" height="17.4" fill="#272727"/>
<rect x="362.3" y="211.7" width="18.8" height="17.4" fill="#585858"/>
<rect x="387.3" y="211.7" width="18.8" height="17.4" fill="#555555"/>
<rect x="261.2" y="235.9" width="18.8" height="18.2" fill="#5c5c5c"/>
<rect x="287.0" y="235.9" width="18.8" height="18.2" fill="#4a4a4a"/>
<rect x="312.3" y="235.9" width="18.8" height="18.2" fill="#606060"/>
<rect x="336.6" y="235.9" width="18.8" height="18.2" fill="#404040"/>
<rect x="362.3" y="235.9" width="18.8" height="18.2" fill="#4a4a4a"/>
<rect x="387.3" y="235.9" width="18.8" height="18.2" fill="#484848"/>
<rect x="261.2" y="260.8" width="18.8" height="18.6" fill="#3a3a3a"/>
<rect x="287.0" y="260.8" width="18.8" height="18.6" fill="#3e3e3e"/>
<rect x="312.3" y="260.8" width="18.8" height="18.6" fill="#585858"/>
<rect x="336.6" y="260.8" width="18.8" height="18.6" fill="#484848"/>
<rect x="362.3" y="260.8" width="18.8" height="18.6" fill="#505050"/>
<rect x="387.3" y="260.8" width="18.8" height="18.6" fill="#2e2e2e"/>
<rect x="261.2" y="287.4" width="18.8" height="18.4" fill="#787878"/>
<rect x="287.0" y="287.4" width="18.8" height="18.4" fill="#5a5a5a"/>
<rect x="312.3" y="287.4" width="18.8" height="18.4" fill="#505050"/>
<rect x="336.6" y="287.4" width="18.8" height="18.4" fill="#333333"/>
<rect x="362.3" y="287.4" width="18.8" height="18.4" fill="#292929"/>
<rect x="387.3" y="287.4" width="18.8" height="18.4" fill="#1d1d1d"/>
</g>
<rect x="254.2" y="196.0" width="160.3" height="128.8" fill="url(#dith)"/>
<text x="259.6" y="279.3" font-size="16.4" fill="#dc1f2b" stroke="#dc1f2b" stroke-width="0.35" textLength="132.7" lengthAdjust="spacingAndGlyphs">ZOOMED REGION</text>
<rect x="259.6" y="281.1" width="132.7" height="1.3" fill="#dc1f2b"/>
<line x1="321" y1="281.8" x2="275" y2="290.6" stroke="#dc1f2b" stroke-width="1.3"/>
<path d="M272.5,291.1 L278.5,287.2 L279.6,292.6Z" fill="#dc1f2b"/>
<rect x="264.9" y="291.4" width="8.8" height="8.8" fill="#ee1822"/>
<rect x="417.50" y="194.20" width="11.25" height="11.25" fill="#2e2e2e"/>
<rect x="428.45" y="194.20" width="11.25" height="11.25" fill="#7f7f7f"/>
<rect x="439.40" y="194.20" width="11.25" height="11.25" fill="#fbfbfb"/>
<rect x="450.35" y="194.20" width="11.25" height="11.25" fill="#7f7f7f"/>
<rect x="461.30" y="194.20" width="11.25" height="11.25" fill="#2e2e2e"/>
<rect x="472.25" y="194.20" width="11.25" height="11.25" fill="#7f7f7f"/>
<rect x="483.20" y="194.20" width="11.25" height="11.25" fill="#fbfbfb"/>
<rect x="494.15" y="194.20" width="11.25" height="11.25" fill="#7f7f7f"/>
<rect x="505.10" y="194.20" width="11.25" height="11.25" fill="#2e2e2e"/>
<rect x="516.05" y="194.20" width="11.25" height="11.25" fill="#7f7f7f"/>
<rect x="527.00" y="194.20" width="11.25" height="11.25" fill="#fbfbfb"/>
<rect x="537.95" y="194.20" width="11.25" height="11.25" fill="#7f7f7f"/>
<rect x="417.50" y="205.15" width="11.25" height="11.25" fill="#7f7f7f"/>
<rect x="428.45" y="205.15" width="11.25" height="11.25" fill="#424242"/>
<rect x="439.40" y="205.15" width="11.25" height="11.25" fill="#6e6e6e"/>
<rect x="450.35" y="205.15" width="11.25" height="11.25" fill="#5c5c5c"/>
<rect x="461.30" y="205.15" width="11.25" height="11.25" fill="#7f7f7f"/>
<rect x="472.25" y="205.15" width="11.25" height="11.25" fill="#424242"/>
<rect x="483.20" y="205.15" width="11.25" height="11.25" fill="#6e6e6e"/>
<rect x="494.15" y="205.15" width="11.25" height="11.25" fill="#5c5c5c"/>
<rect x="505.10" y="205.15" width="11.25" height="11.25" fill="#7f7f7f"/>
<rect x="516.05" y="205.15" width="11.25" height="11.25" fill="#424242"/>
<rect x="527.00" y="205.15" width="11.25" height="11.25" fill="#6e6e6e"/>
<rect x="537.95" y="205.15" width="11.25" height="11.25" fill="#5c5c5c"/>
<rect x="417.50" y="216.10" width="11.25" height="11.25" fill="#fbfbfb"/>
<rect x="428.45" y="216.10" width="11.25" height="11.25" fill="#7f7f7f"/>
<rect x="439.40" y="216.10" width="11.25" height="11.25" fill="#2e2e2e"/>
<rect x="450.35" y="216.10" width="11.25" height="11.25" fill="#7f7f7f"/>
<rect x="461.30" y="216.10" width="11.25" height="11.25" fill="#fbfbfb"/>
<rect x="472.25" y="216.10" width="11.25" height="11.25" fill="#7f7f7f"/>
<rect x="483.20" y="216.10" width="11.25" height="11.25" fill="#2e2e2e"/>
<rect x="494.15" y="216.10" width="11.25" height="11.25" fill="#7f7f7f"/>
<rect x="505.10" y="216.10" width="11.25" height="11.25" fill="#fbfbfb"/>
<rect x="516.05" y="216.10" width="11.25" height="11.25" fill="#7f7f7f"/>
<rect x="527.00" y="216.10" width="11.25" height="11.25" fill="#2e2e2e"/>
<rect x="537.95" y="216.10" width="11.25" height="11.25" fill="#7f7f7f"/>
<rect x="417.50" y="227.05" width="11.25" height="11.25" fill="#6e6e6e"/>
<rect x="428.45" y="227.05" width="11.25" height="11.25" fill="#5c5c5c"/>
<rect x="439.40" y="227.05" width="11.25" height="11.25" fill="#7f7f7f"/>
<rect x="450.35" y="227.05" width="11.25" height="11.25" fill="#424242"/>
<rect x="461.30" y="227.05" width="11.25" height="11.25" fill="#6e6e6e"/>
<rect x="472.25" y="227.05" width="11.25" height="11.25" fill="#5c5c5c"/>
<rect x="483.20" y="227.05" width="11.25" height="11.25" fill="#7f7f7f"/>
<rect x="494.15" y="227.05" width="11.25" height="11.25" fill="#424242"/>
<rect x="505.10" y="227.05" width="11.25" height="11.25" fill="#6e6e6e"/>
<rect x="516.05" y="227.05" width="11.25" height="11.25" fill="#5c5c5c"/>
<rect x="527.00" y="227.05" width="11.25" height="11.25" fill="#7f7f7f"/>
<rect x="537.95" y="227.05" width="11.25" height="11.25" fill="#424242"/>
<rect x="417.50" y="238.00" width="11.25" height="11.25" fill="#2e2e2e"/>
<rect x="428.45" y="238.00" width="11.25" height="11.25" fill="#7f7f7f"/>
<rect x="439.40" y="238.00" width="11.25" height="11.25" fill="#fbfbfb"/>
<rect x="450.35" y="238.00" width="11.25" height="11.25" fill="#7f7f7f"/>
<rect x="461.30" y="238.00" width="11.25" height="11.25" fill="#2e2e2e"/>
<rect x="472.25" y="238.00" width="11.25" height="11.25" fill="#7f7f7f"/>
<rect x="483.20" y="238.00" width="11.25" height="11.25" fill="#fbfbfb"/>
<rect x="494.15" y="238.00" width="11.25" height="11.25" fill="#7f7f7f"/>
<rect x="505.10" y="238.00" width="11.25" height="11.25" fill="#2e2e2e"/>
<rect x="516.05" y="238.00" width="11.25" height="11.25" fill="#7f7f7f"/>
<rect x="527.00" y="238.00" width="11.25" height="11.25" fill="#fbfbfb"/>
<rect x="537.95" y="238.00" width="11.25" height="11.25" fill="#7f7f7f"/>
<rect x="417.50" y="248.95" width="11.25" height="11.25" fill="#7f7f7f"/>
<rect x="428.45" y="248.95" width="11.25" height="11.25" fill="#424242"/>
<rect x="439.40" y="248.95" width="11.25" height="11.25" fill="#6e6e6e"/>
<rect x="450.35" y="248.95" width="11.25" height="11.25" fill="#5c5c5c"/>
<rect x="461.30" y="248.95" width="11.25" height="11.25" fill="#7f7f7f"/>
<rect x="472.25" y="248.95" width="11.25" height="11.25" fill="#424242"/>
<rect x="483.20" y="248.95" width="11.25" height="11.25" fill="#6e6e6e"/>
<rect x="494.15" y="248.95" width="11.25" height="11.25" fill="#5c5c5c"/>
<rect x="505.10" y="248.95" width="11.25" height="11.25" fill="#7f7f7f"/>
<rect x="516.05" y="248.95" width="11.25" height="11.25" fill="#424242"/>
<rect x="527.00" y="248.95" width="11.25" height="11.25" fill="#6e6e6e"/>
<rect x="537.95" y="248.95" width="11.25" height="11.25" fill="#5c5c5c"/>
<rect x="417.50" y="259.90" width="11.25" height="11.25" fill="#fbfbfb"/>
<rect x="428.45" y="259.90" width="11.25" height="11.25" fill="#7f7f7f"/>
<rect x="439.40" y="259.90" width="11.25" height="11.25" fill="#2e2e2e"/>
<rect x="450.35" y="259.90" width="11.25" height="11.25" fill="#7f7f7f"/>
<rect x="461.30" y="259.90" width="11.25" height="11.25" fill="#fbfbfb"/>
<rect x="472.25" y="259.90" width="11.25" height="11.25" fill="#7f7f7f"/>
<rect x="483.20" y="259.90" width="11.25" height="11.25" fill="#2e2e2e"/>
<rect x="494.15" y="259.90" width="11.25" height="11.25" fill="#7f7f7f"/>
<rect x="505.10" y="259.90" width="11.25" height="11.25" fill="#fbfbfb"/>
<rect x="516.05" y="259.90" width="11.25" height="11.25" fill="#7f7f7f"/>
<rect x="527.00" y="259.90" width="11.25" height="11.25" fill="#2e2e2e"/>
<rect x="537.95" y="259.90" width="11.25" height="11.25" fill="#7f7f7f"/>
<rect x="417.50" y="270.85" width="11.25" height="11.25" fill="#6e6e6e"/>
<rect x="428.45" y="270.85" width="11.25" height="11.25" fill="#5c5c5c"/>
<rect x="439.40" y="270.85" width="11.25" height="11.25" fill="#7f7f7f"/>
<rect x="450.35" y="270.85" width="11.25" height="11.25" fill="#424242"/>
<rect x="461.30" y="270.85" width="11.25" height="11.25" fill="#6e6e6e"/>
<rect x="472.25" y="270.85" width="11.25" height="11.25" fill="#5c5c5c"/>
<rect x="483.20" y="270.85" width="11.25" height="11.25" fill="#7f7f7f"/>
<rect x="494.15" y="270.85" width="11.25" height="11.25" fill="#424242"/>
<rect x="505.10" y="270.85" width="11.25" height="11.25" fill="#6e6e6e"/>
<rect x="516.05" y="270.85" width="11.25" height="11.25" fill="#5c5c5c"/>
<rect x="527.00" y="270.85" width="11.25" height="11.25" fill="#7f7f7f"/>
<rect x="537.95" y="270.85" width="11.25" height="11.25" fill="#424242"/>
<rect x="417.50" y="281.80" width="11.25" height="11.25" fill="#2e2e2e"/>
<rect x="428.45" y="281.80" width="11.25" height="11.25" fill="#7f7f7f"/>
<rect x="439.40" y="281.80" width="11.25" height="11.25" fill="#fbfbfb"/>
<rect x="450.35" y="281.80" width="11.25" height="11.25" fill="#7f7f7f"/>
<rect x="461.30" y="281.80" width="11.25" height="11.25" fill="#2e2e2e"/>
<rect x="472.25" y="281.80" width="11.25" height="11.25" fill="#7f7f7f"/>
<rect x="483.20" y="281.80" width="11.25" height="11.25" fill="#fbfbfb"/>
<rect x="494.15" y="281.80" width="11.25" height="11.25" fill="#7f7f7f"/>
<rect x="505.10" y="281.80" width="11.25" height="11.25" fill="#2e2e2e"/>
<rect x="516.05" y="281.80" width="11.25" height="11.25" fill="#7f7f7f"/>
<rect x="527.00" y="281.80" width="11.25" height="11.25" fill="#fbfbfb"/>
<rect x="537.95" y="281.80" width="11.25" height="11.25" fill="#7f7f7f"/>
<rect x="417.50" y="292.75" width="11.25" height="11.25" fill="#7f7f7f"/>
<rect x="428.45" y="292.75" width="11.25" height="11.25" fill="#424242"/>
<rect x="439.40" y="292.75" width="11.25" height="11.25" fill="#6e6e6e"/>
<rect x="450.35" y="292.75" width="11.25" height="11.25" fill="#5c5c5c"/>
<rect x="461.30" y="292.75" width="11.25" height="11.25" fill="#7f7f7f"/>
<rect x="472.25" y="292.75" width="11.25" height="11.25" fill="#424242"/>
<rect x="483.20" y="292.75" width="11.25" height="11.25" fill="#6e6e6e"/>
<rect x="494.15" y="292.75" width="11.25" height="11.25" fill="#5c5c5c"/>
<rect x="505.10" y="292.75" width="11.25" height="11.25" fill="#7f7f7f"/>
<rect x="516.05" y="292.75" width="11.25" height="11.25" fill="#424242"/>
<rect x="527.00" y="292.75" width="11.25" height="11.25" fill="#6e6e6e"/>
<rect x="537.95" y="292.75" width="11.25" height="11.25" fill="#5c5c5c"/>
<rect x="417.50" y="303.70" width="11.25" height="11.25" fill="#fbfbfb"/>
<rect x="428.45" y="303.70" width="11.25" height="11.25" fill="#7f7f7f"/>
<rect x="439.40" y="303.70" width="11.25" height="11.25" fill="#2e2e2e"/>
<rect x="450.35" y="303.70" width="11.25" height="11.25" fill="#7f7f7f"/>
<rect x="461.30" y="303.70" width="11.25" height="11.25" fill="#fbfbfb"/>
<rect x="472.25" y="303.70" width="11.25" height="11.25" fill="#7f7f7f"/>
<rect x="483.20" y="303.70" width="11.25" height="11.25" fill="#2e2e2e"/>
<rect x="494.15" y="303.70" width="11.25" height="11.25" fill="#7f7f7f"/>
<rect x="505.10" y="303.70" width="11.25" height="11.25" fill="#fbfbfb"/>
<rect x="516.05" y="303.70" width="11.25" height="11.25" fill="#7f7f7f"/>
<rect x="527.00" y="303.70" width="11.25" height="11.25" fill="#2e2e2e"/>
<rect x="537.95" y="303.70" width="11.25" height="11.25" fill="#7f7f7f"/>
<rect x="417.50" y="314.65" width="11.25" height="11.25" fill="#6e6e6e"/>
<rect x="428.45" y="314.65" width="11.25" height="11.25" fill="#5c5c5c"/>
<rect x="439.40" y="314.65" width="11.25" height="11.25" fill="#7f7f7f"/>
<rect x="450.35" y="314.65" width="11.25" height="11.25" fill="#424242"/>
<rect x="461.30" y="314.65" width="11.25" height="11.25" fill="#6e6e6e"/>
<rect x="472.25" y="314.65" width="11.25" height="11.25" fill="#5c5c5c"/>
<rect x="483.20" y="314.65" width="11.25" height="11.25" fill="#7f7f7f"/>
<rect x="494.15" y="314.65" width="11.25" height="11.25" fill="#424242"/>
<rect x="505.10" y="314.65" width="11.25" height="11.25" fill="#6e6e6e"/>
<rect x="516.05" y="314.65" width="11.25" height="11.25" fill="#5c5c5c"/>
<rect x="527.00" y="314.65" width="11.25" height="11.25" fill="#7f7f7f"/>
<rect x="537.95" y="314.65" width="11.25" height="11.25" fill="#424242"/>
<text x="0.6" y="13.3" font-size="18" font-weight="bold" fill="#000">a</text>
<text x="128.7" y="13.3" font-size="18" font-weight="bold" fill="#000">b</text>
<text x="350.7" y="13.3" font-size="18" font-weight="bold" fill="#000">c</text>
<text x="0.7" y="188.7" font-size="18" font-weight="bold" fill="#000">d</text>
<text x="245.2" y="189" font-size="18" font-weight="bold" fill="#000">e</text>
<text x="415.9" y="188.5" font-size="18" font-weight="bold" fill="#000">f</text>
</svg>
</body></html>
